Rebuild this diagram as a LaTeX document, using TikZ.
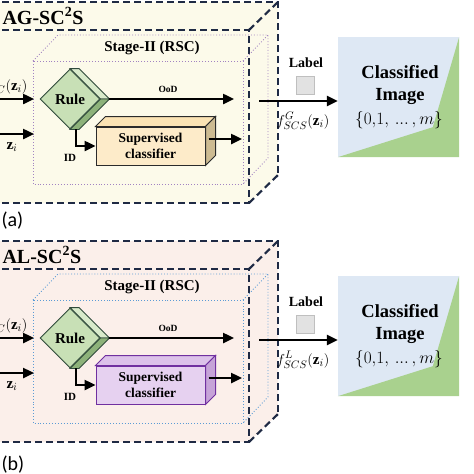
\documentclass[tikz,border=0pt]{standalone}
\usepackage{amsmath,amssymb}
\usepackage{fontspec}
\setmainfont{Liberation Serif}[BoldFont={Liberation Serif Bold}]
\newfontfamily\capfont{Carlito}
\usetikzlibrary{shapes.geometric,arrows.meta,calc,positioning}
\definecolor{navy}{HTML}{1F2A44}
\definecolor{pfa}{HTML}{FCFAEA}
\definecolor{pfb}{HTML}{FBEFEA}
\definecolor{inna}{HTML}{A283C2}
\definecolor{innb}{HTML}{5B9BD5}
\definecolor{rulefill}{HTML}{C8E0B6}
\definecolor{ruletop}{HTML}{D8EACB}
\definecolor{ruleside}{HTML}{8DB27A}
\definecolor{ruleline}{HTML}{2F4A3A}
\definecolor{clsa}{HTML}{FDEBC9}
\definecolor{clsatop}{HTML}{FBE3B4}
\definecolor{clsaside}{HTML}{CDBB92}
\definecolor{clsaline}{HTML}{2B2B2B}
\definecolor{clsb}{HTML}{E6D1F0}
\definecolor{clsbtop}{HTML}{DCC2EA}
\definecolor{clsbside}{HTML}{C6A3D8}
\definecolor{clsbline}{HTML}{7030A0}
\definecolor{imgblue}{HTML}{DEE8F4}
\definecolor{imggreen}{HTML}{A9D18E}
\definecolor{chipc}{HTML}{E2E2E2}
\tikzset{
  outerdash/.style={navy,line width=2.2pt,dash pattern=on 7pt off 4pt},
  innerdot/.style={line width=0.9pt,dotted},
  flow/.style={line width=2.4pt,-{Triangle[length=11pt,width=10pt]}},
  ttl/.style={anchor=west,font=\bfseries\fontsize{20}{22}\selectfont},
  stg/.style={font=\bfseries\fontsize{15}{17}\selectfont},
  rulebox/.style={diamond,aspect=1,draw=ruleline,fill=rulefill,line width=0.9pt,
    minimum width=60pt,minimum height=60pt,inner sep=0pt,font=\bfseries\fontsize{15}{17}\selectfont},
  clsbox/.style={rectangle,line width=1pt,minimum width=109pt,minimum height=38pt,
    inner sep=2pt,align=center,font=\bfseries\fontsize{13.5}{15.5}\selectfont},
  tiny/.style={font=\bfseries\fontsize{9.5}{11}\selectfont},
  lbl/.style={font=\bfseries\fontsize{14}{16}\selectfont},
  mlbl/.style={font=\fontsize{15}{17}\selectfont},
  chip/.style={rectangle,draw=gray!50,fill=chipc,minimum size=18pt,inner sep=0pt},
  imgbox/.style={rectangle,fill=imgblue,minimum width=121pt,minimum height=120pt,inner sep=0pt},
  imgtxt/.style={font=\bfseries\fontsize{18.5}{20}\selectfont},
  plbl/.style={anchor=west,font=\capfont\fontsize{20}{22}\selectfont},
}
\begin{document}
\begin{tikzpicture}[x=1pt,y=-1pt]
  \useasboundingbox (0,0) rectangle (474,474);
  \clip (0,0) rectangle (474,474);
  \foreach \p/\dy/\ttl/\sw/\pfill/\inner/\cfront/\ctop/\cside/\cline/\ly in
    {a/0/AG/G/pfa/inna/clsa/clsatop/clsaside/clsaline/221,
     b/239/AL/L/pfb/innb/clsb/clsbtop/clsbside/clsbline/226}
  {
  \begin{scope}[shift={(0,\dy)}]
    % outer 3D frame
    \fill[\pfill] (-20,2) -- (278,2) -- (278,175) -- (249,203) -- (-20,203) -- cycle;
    \draw[outerdash] (-20,2) -- (278,2) -- (278,175);
    \draw[outerdash] (-20,30) -- (249,30) -- (249,203) -- (-20,203);
    \draw[outerdash] (249,30) -- (278,2);
    \draw[outerdash] (249,203) -- (278,175);
    \node[ttl] (\p-title) at (-1,16) {\ttl-SC\textsuperscript{2}S};
    % stage II box
    \draw[innerdot,\inner] (33,61) rectangle (243,184);
    \draw[innerdot,\inner] (33,61) -- (58,35) -- (268,35) -- (268,158) -- (243,184);
    \draw[innerdot,\inner] (243,61) -- (268,35);
    \node[stg] (\p-stage) at (152,48) {Stage-II (RSC)};
    % rule
    \node[rulebox] (\p-rule) at (70,99) {Rule};
    \filldraw[ruleline,fill=ruletop,line width=0.9pt] (\p-rule.north) -- ++(9,0)
      -- ($(\p-rule.east)+(9,0)$) -- (\p-rule.east) -- cycle;
    \filldraw[ruleline,fill=ruleside,line width=0.9pt] (\p-rule.east) -- ++(9,0)
      -- ($(\p-rule.south)+(9,0)$) -- (\p-rule.south) -- cycle;
    % classifier
    \node[clsbox,draw=\cline,fill=\cfront] (\p-cls) at (150.5,146) {Supervised\\classifier};
    \filldraw[draw=\cline,fill=\ctop,line width=1pt] (\p-cls.north west) -- ++(10,-10)
      -- ($(\p-cls.north east)+(10,-10)$) -- (\p-cls.north east) -- cycle;
    \filldraw[draw=\cline,fill=\cside,line width=1pt] (\p-cls.north east) -- ++(10,-10)
      -- ($(\p-cls.south east)+(10,-10)$) -- (\p-cls.south east) -- cycle;
    % inputs
    \coordinate (\p-in1) at (-2,99);
    \coordinate (\p-in1e) at (34,99);
    \coordinate (\p-in2) at (-2,134);
    \coordinate (\p-in2e) at (34,134);
    \draw[flow] (\p-in1) -- (\p-in1e);
    \draw[flow] (\p-in2) -- (\p-in2e);
    \node[mlbl,anchor=east] (\p-fin) at (31,87) {$f_{SC}(\mathbf{z}_i)$};
    \node[mlbl] (\p-zi) at (12,147) {$\mathbf{z}_i$};
    % rule outputs
    \coordinate (\p-ruler) at ($(\p-rule.east)+(9,0)$);
    \coordinate (\p-oode) at (234,99);
    \draw[flow] (\p-ruler) -- (\p-oode);
    \node[tiny] (\p-ood) at (168,89) {OoD};
    \coordinate (\p-rules) at ($(\p-rule.south)+(6,0)$);
    \draw[flow] (\p-rules) |- (\p-cls.west);
    \node[tiny,font=\bfseries\fontsize{11}{12}\selectfont] (\p-id) at (70,158) {ID};
    \coordinate (\p-clso) at ($(\p-cls.east)+(3,-7)$);
    \coordinate (\p-clsoe) at (242,139);
    \draw[flow] (\p-clso) -- (\p-clsoe);
    % output image
    \node[imgbox] (\p-img) at (398.5,97) {};
    \fill[imggreen] (\p-img.south west) -- ++(95,-30) -- (\p-img.north east)
      -- (\p-img.south east) -- cycle;
    \node[imgtxt] (\p-cl) at (400,72) {Classified};
    \node[imgtxt] (\p-im) at (400,96) {Image};
    \node[font=\fontsize{17}{19}\selectfont] (\p-set) at (399,120) {$\{0{,}1,\,\mathrm{...}\,,m\}$};
    \coordinate (\p-outs) at (259,101);
    \draw[flow] (\p-outs) -- (\p-outs -| \p-img.west);
    \node[lbl] (\p-lbl) at (306,63) {Label};
    \node[chip] (\p-chip) at (305,85) {};
    \node[mlbl,inner sep=1pt] (\p-fs) at (303,121) {$f^{\sw}_{SCS}(\mathbf{z}_i)$};
    \node[plbl] (\p-tag) at (-2,\ly) {(\p)};
  \end{scope}
  }
\end{tikzpicture}
\end{document}
